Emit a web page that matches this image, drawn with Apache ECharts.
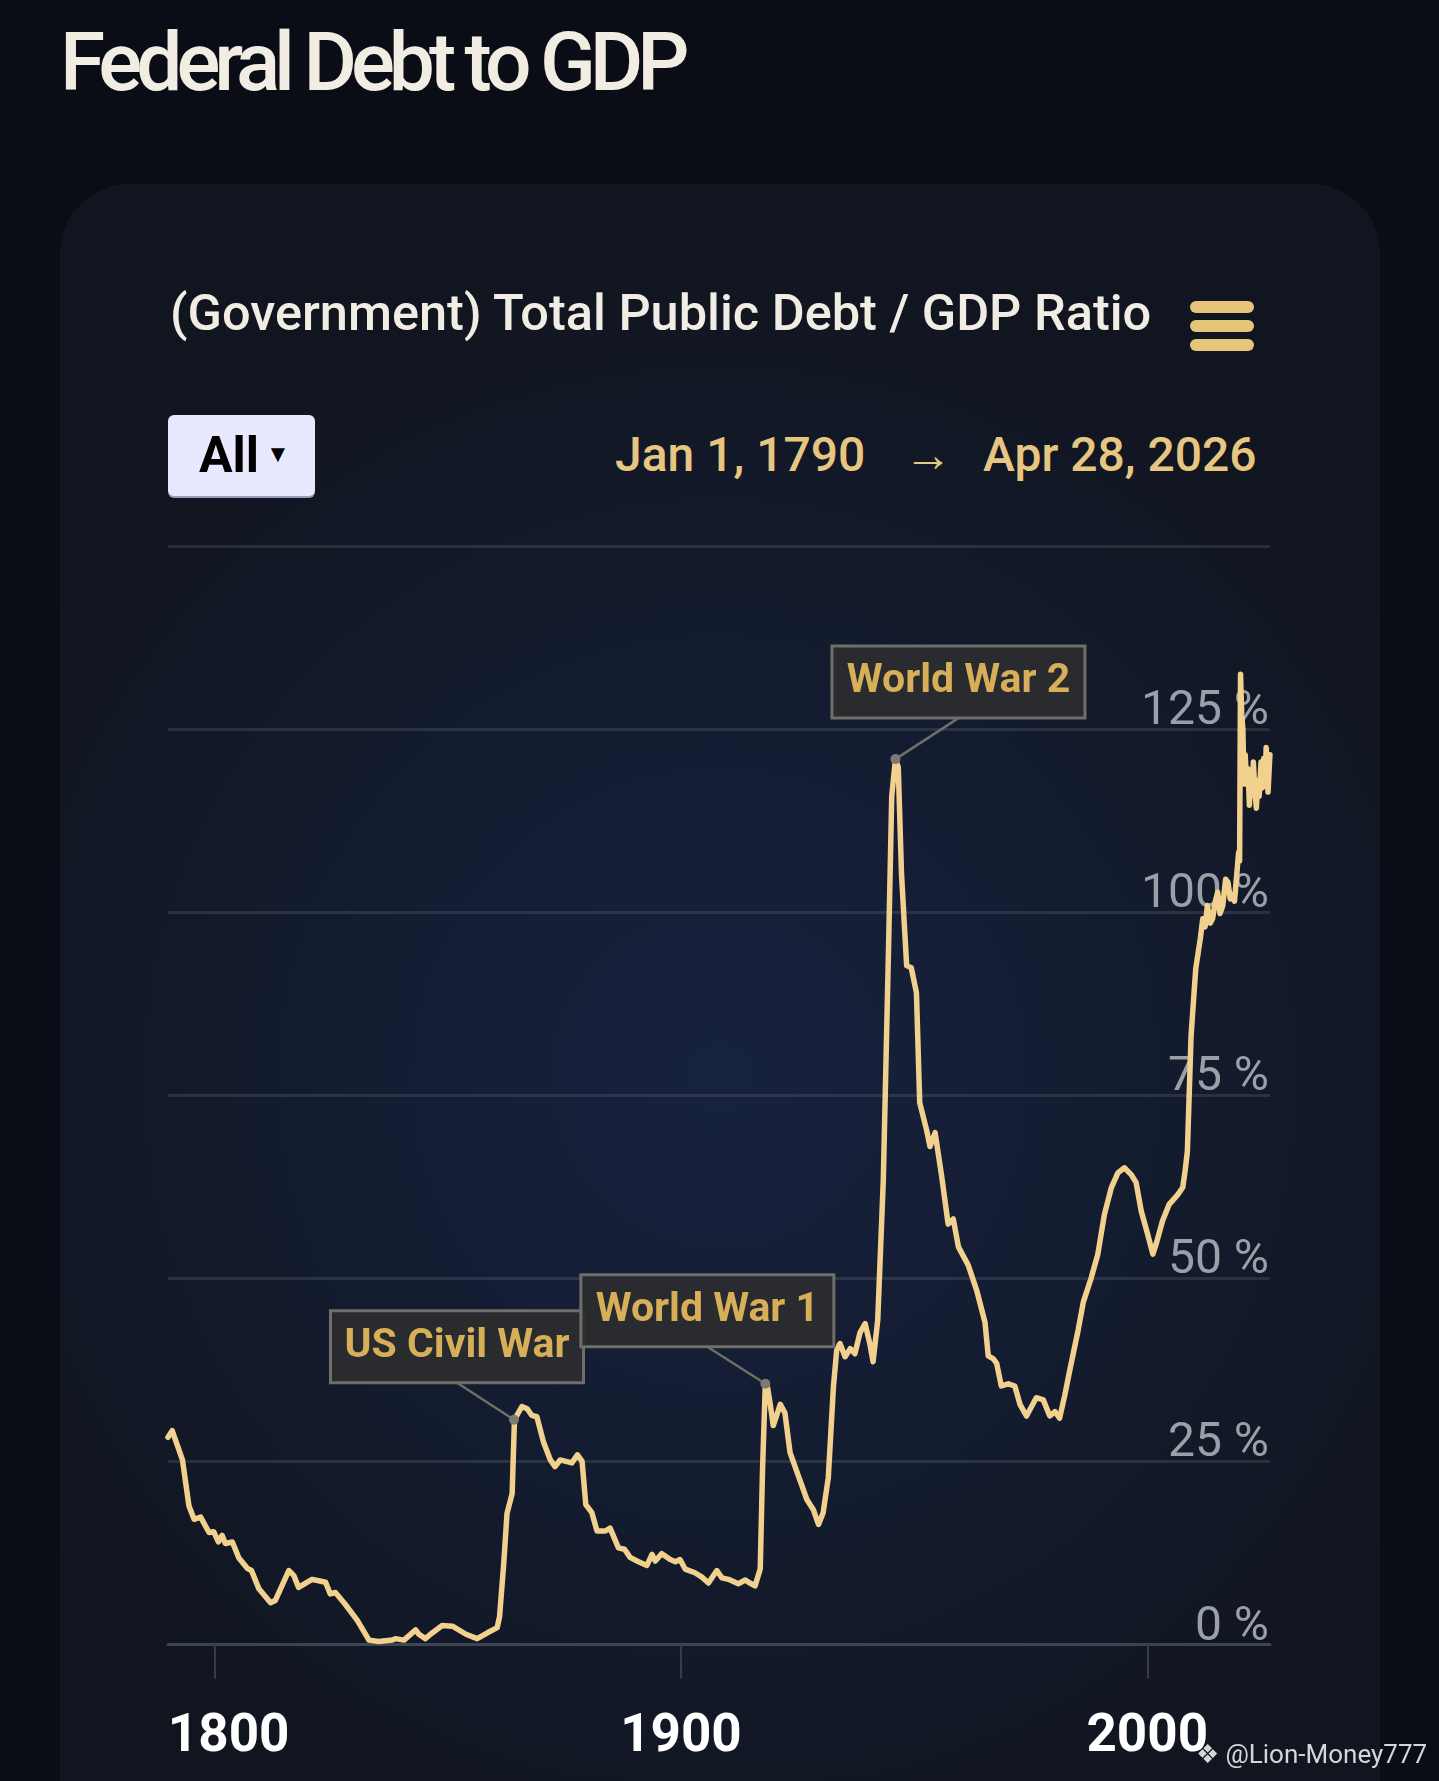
<!DOCTYPE html>
<html lang="en">
<head>
    <meta charset="UTF-8" />
    <title>Federal Debt to GDP</title>
    <script src="https://cdn.jsdelivr.net/npm/echarts@6/dist/echarts.min.js"></script>
    <style>
        html, body {
            margin: 0;
            padding: 0;
            width: 1439px;
            height: 1781px;
            overflow: hidden;
            background: #0a0d15;
            font-family: Roboto, "Noto Sans", sans-serif;
        }
        h1 {
            position: absolute;
            left: 60px;
            top: 21px;
            margin: 0;
            font-size: 82px;
            line-height: 1;
            font-weight: 500;
            letter-spacing: -6px;
            color: #f2ede2;
        }
        .card {
            position: absolute;
            left: 60px;
            top: 184px;
            width: 1320px;
            height: 1720px;
            border-radius: 70px;
            background: radial-gradient(ellipse 62% 48% at 50% 52%, #17223f 0%, #131b2e 55%, #11151f 100%);
        }
        .subtitle {
            position: absolute;
            left: 170px;
            top: 288px;
            font-size: 50.5px;
            line-height: 1;
            font-weight: 500;
            color: #f2ede4;
        }
        .menu {
            position: absolute;
            left: 1190px;
            top: 301px;
            width: 64px;
        }
        .menu div {
            height: 12px;
            border-radius: 6px;
            background: #e5c57a;
            margin-bottom: 7px;
        }
        .range-btn {
            position: absolute;
            left: 168px;
            top: 415px;
            width: 147px;
            height: 81px;
            border-radius: 6px;
            background: #e8e9fe;
            box-shadow: 0 2px 0 #9a9cb8;
        }
        .range-btn span {
            position: absolute;
            left: 31px;
            top: 15px;
            font-size: 50px;
            line-height: 1;
            font-weight: 700;
            color: #000;
        }
        .range-btn i {
            position: absolute;
            left: 98px;
            top: 27px;
            font-style: normal;
            font-size: 24px;
            line-height: 1;
            color: #000;
        }
        .date {
            position: absolute;
            top: 431px;
            font-size: 48px;
            line-height: 1;
            font-weight: 500;
            color: #e6c681;
        }
        #chart {
            position: absolute;
            left: 0;
            top: 0;
            width: 1439px;
            height: 1781px;
        }
        .mark {
            position: absolute;
            left: 1196px;
            top: 1741px;
            font-size: 26px;
            line-height: 1;
            color: #d6d6d6;
        }
    </style>
</head>
<body>
<h1>Federal Debt to GDP</h1>
<div class="card"></div>
<div class="subtitle">(Government) Total Public Debt / GDP Ratio</div>
<div class="menu"><div></div><div></div><div></div></div>
<div class="range-btn"><span>All</span><i>▼</i></div>
<div class="date" style="left:615px">Jan 1, 1790</div>
<div class="date" style="left:904px">→</div>
<div class="date" style="left:983px">Apr 28, 2026</div>
<div id="chart"></div>
<div class="mark">❖ @Lion-Money777</div>

<script>
    // values (year, debt / GDP in %)
    const debtYears = [
        1790.0, 1790.9, 1793.1, 1794.5, 1795.6, 1797.0, 1798.8, 1799.8, 1800.8, 1801.6,
        1802.3, 1803.8, 1805.2, 1807.0, 1807.9, 1809.5, 1812.0, 1813.0, 1815.9, 1817.0,
        1818.0, 1820.9, 1822.3, 1823.8, 1824.8, 1825.9, 1828.0, 1830.6, 1833.1, 1835.2,
        1838.1, 1838.8, 1840.6, 1843.1, 1843.8, 1845.2, 1846.3, 1848.8, 1851.0, 1853.9,
        1856.3, 1858.5, 1860.6, 1861.1, 1862.0, 1862.7, 1863.8, 1864.3, 1865.9, 1867.0,
        1868.0, 1869.1, 1870.5, 1872.0, 1873.0, 1874.1, 1876.6, 1877.8, 1878.8, 1879.6,
        1880.9, 1882.0, 1883.8, 1884.8, 1886.6, 1887.9, 1889.1, 1890.9, 1892.7, 1893.8,
        1894.5, 1895.9, 1897.7, 1898.8, 1899.8, 1900.9, 1903.0, 1904.5, 1905.9, 1907.7,
        1908.8, 1910.2, 1912.3, 1913.8, 1914.5, 1915.9, 1917.0, 1917.5, 1918.1, 1918.6,
        1919.1, 1919.8, 1921.3, 1922.3, 1923.4, 1925.2, 1927.0, 1928.4, 1929.5, 1930.5,
        1931.6, 1932.7, 1933.4, 1934.1, 1935.2, 1936.3, 1937.3, 1938.4, 1939.5, 1940.5,
        1941.2, 1942.2, 1943.4, 1944.5, 1945.2, 1946.0, 1946.6, 1947.3, 1948.4, 1949.4,
        1950.5, 1951.2, 1952.7, 1953.4, 1954.5, 1955.9, 1957.3, 1958.4, 1959.5, 1961.6,
        1963.4, 1965.2, 1965.9, 1967.0, 1967.7, 1968.7, 1970.2, 1971.6, 1972.7, 1974.1,
        1976.2, 1977.7, 1979.1, 1980.2, 1981.2, 1982.3, 1983.4, 1985.2, 1986.3, 1988.0,
        1989.4, 1990.8, 1992.3, 1993.7, 1995.1, 1996.5, 1997.6, 1998.7, 2000.1, 2001.2,
        2001.9, 2003.3, 2004.7, 2006.5, 2007.6, 2008.1, 2008.6, 2009.4, 2010.4, 2011.4,
        2011.9, 2012.4, 2012.9, 2013.5, 2014.0, 2014.6, 2015.1, 2015.6, 2016.2, 2016.8,
        2017.3, 2017.8, 2018.3, 2018.7, 2019.0, 2019.6, 2019.8, 2020.0, 2020.25, 2020.5,
        2020.75, 2021.0, 2021.3, 2021.6, 2021.9, 2022.2, 2022.5, 2022.75, 2023.05, 2023.4,
        2023.7, 2024.0, 2024.4, 2024.7, 2025.0, 2025.3, 2025.5, 2025.9, 2026.3
    ];
    const debtRatio = [
        28.3, 29.2, 25.2, 18.9, 17.1, 17.4, 15.3, 15.4, 14.0, 14.9,
        13.8, 14.0, 11.8, 10.4, 10.1, 7.6, 5.7, 6.0, 10.1, 9.4,
        7.8, 8.9, 8.7, 8.5, 6.9, 7.1, 5.5, 3.3, 0.6, 0.4,
        0.6, 0.8, 0.6, 2.0, 1.4, 0.8, 1.4, 2.6, 2.5, 1.4,
        0.8, 1.6, 2.3, 3.8, 11.1, 17.9, 20.6, 30.7, 32.5, 32.2,
        31.3, 31.1, 27.7, 25.2, 24.3, 25.2, 24.8, 25.9, 25.0, 19.1,
        18.0, 15.5, 15.5, 15.9, 13.2, 13.0, 11.9, 11.3, 10.8, 12.3,
        11.4, 12.4, 11.6, 11.3, 11.6, 10.3, 9.8, 9.2, 8.4, 10.1,
        9.1, 8.9, 8.3, 8.8, 8.5, 8.0, 10.3, 24.0, 35.7, 35.0,
        33.0, 29.9, 32.8, 31.6, 26.2, 23.0, 19.8, 18.4, 16.4, 18.0,
        22.8, 35.2, 40.2, 41.1, 39.3, 40.4, 39.7, 42.6, 43.8, 41.1,
        38.6, 44.3, 63.5, 94.6, 115.8, 120.9, 119.8, 105.2, 92.7, 92.4,
        89.0, 74.0, 70.2, 68.0, 69.9, 64.0, 57.4, 58.1, 54.3, 51.8,
        48.4, 44.0, 39.4, 39.0, 38.4, 35.3, 35.6, 35.3, 32.8, 31.2,
        33.7, 33.4, 31.2, 31.8, 30.9, 34.0, 37.5, 43.0, 46.8, 50.1,
        53.3, 58.7, 62.4, 64.4, 65.1, 64.2, 63.1, 59.2, 56.0, 53.3,
        54.7, 57.9, 60.1, 61.4, 62.4, 64.6, 67.3, 83.2, 92.3, 96.5,
        99.1, 98.0, 100.9, 98.5, 99.1, 101.5, 102.7, 99.8, 100.9, 104.5,
        104.1, 101.8, 102.3, 101.5, 103.7, 108.2, 107.0, 132.5, 127.0, 125.0,
        117.5, 121.5, 117.5, 119.6, 114.6, 119.0, 116.0, 120.5, 116.8, 114.2,
        118.0, 115.8, 120.5, 117.0, 121.0, 118.0, 122.5, 116.4, 121.5
    ];

    const eventNames = ['US Civil War', 'World War 1', 'World War 2'];
    const eventYears = [1864.2, 1918.1, 1946.0];
    const eventRatio = [30.7, 35.6, 120.9];

    const yearTicks = [1800, 1900, 2000];

    const chart = echarts.init(document.getElementById('chart'));

    // horizontal shift of each label box from its point, in px
    const boxShift = [-57, -58, 63];
    const boxLift = [37, 37, 41];
    const boxW = 253, boxH = 72;

    function renderEvent(params, api) {
        const p = api.coord([api.value(0), api.value(1)]);
        const i = api.value(2);
        const bx = p[0] + boxShift[i];
        const by = p[1] - boxLift[i];
        return {
            type: 'group',
            children: [
                {type: 'line', shape: {x1: p[0], y1: p[1], x2: bx, y2: by},
                    style: {stroke: '#6f6e69', lineWidth: 2.5}},
                {type: 'rect', shape: {x: bx - boxW / 2, y: by - boxH, width: boxW, height: boxH},
                    style: {fill: 'rgba(43,44,47,0.95)', stroke: '#6f6e69', lineWidth: 3}},
                {type: 'text', x: bx, y: by - boxH / 2,
                    style: {text: eventNames[i], fill: '#d6af58', font: 'bold 41px Roboto',
                        align: 'center', verticalAlign: 'middle'}},
                {type: 'circle', shape: {cx: p[0], cy: p[1], r: 5},
                    style: {fill: '#7a7972'}}
            ]
        };
    }

    const option = {
        animation: false,
        grid: {left: 168, right: 169, top: 546, bottom: 136.5},
        xAxis: {
            type: 'value',
            min: 1790,
            max: 2026.32,
            splitLine: {show: false},
            axisLine: {lineStyle: {color: '#3d4452', width: 3}},
            axisTick: {
                show: true,
                customValues: yearTicks,
                length: 34,
                lineStyle: {color: '#363c4a', width: 2}
            },
            axisLabel: {
                customValues: yearTicks,
                margin: 67,
                color: '#ffffff',
                fontSize: 53,
                fontWeight: 'bold',
                fontFamily: 'Roboto',
                formatter: v => v === 1800 ? '{a|1800}' : String(v),
                rich: {a: {fontSize: 53, fontWeight: 'bold', fontFamily: 'Roboto', color: '#ffffff', padding: [0, 0, 0, 28]}}
            }
        },
        yAxis: {
            type: 'value',
            position: 'right',
            min: 0,
            max: 150,
            interval: 25,
            axisLine: {show: false},
            axisTick: {show: false},
            splitLine: {lineStyle: {color: 'rgba(255,255,255,0.1)', width: 3}},
            axisLabel: {
                inside: true,
                margin: 1,
                color: '#9b9fa8',
                fontSize: 48,
                fontFamily: 'Roboto',
                verticalAlign: 'bottom',
                lineHeight: 34,
                formatter: v => v === 150 ? '' : v + ' %'
            }
        },
        series: [
            {
                type: 'line',
                data: debtYears.map((y, i) => [y, debtRatio[i]]),
                showSymbol: false,
                symbol: 'none',
                lineStyle: {color: '#f2d18f', width: 5.5, join: 'round', cap: 'round'},
                z: 3
            },
            {
                type: 'custom',
                data: eventYears.map((y, i) => [y, eventRatio[i], i]),
                encode: {x: 0, y: 1},
                renderItem: renderEvent,
                clip: false,
                z: 5
            }
        ]
    };

    chart.setOption(option);
</script>
</body>
</html>
